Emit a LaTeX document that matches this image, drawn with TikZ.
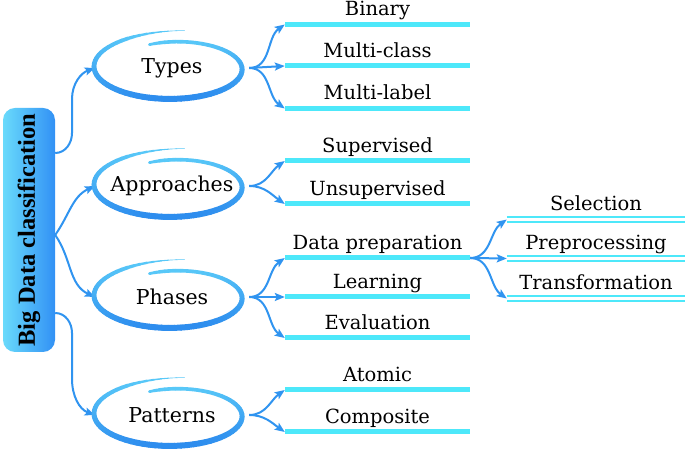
\documentclass[tikz,border=0pt]{standalone}
\usepackage{graphicx}
\usepackage{fontspec}
\setmainfont{DejaVu Serif}
\newfontfamily\boldfam{Liberation Serif}
\usetikzlibrary{arrows.meta}
\definecolor{connc}{RGB}{48,148,240}
\definecolor{barc}{RGB}{77,232,250}
\definecolor{ellL}{RGB}{88,200,248}
\definecolor{ellD}{RGB}{45,140,238}
\definecolor{mainL}{RGB}{105,218,251}
\definecolor{mainR}{RGB}{50,145,245}

\newcommand\handell[2]{%
 \foreach \i in {0,...,77}{%
  \pgfmathsetmacro\heTA{\i/78}%
  \pgfmathsetmacro\heTB{(\i+1)/78}%
  \pgfmathsetmacro\heAA{112-390*\heTA}%
  \pgfmathsetmacro\heAB{112-390*\heTB}%
  \pgfmathsetmacro\heKA{1-0.2*(1-\heTA)^3+0.2*\heTA^6}%
  \pgfmathsetmacro\heKB{1-0.2*(1-\heTB)^3+0.2*\heTB^6}%
  \pgfmathsetmacro\heS{sin((\heAA+\heAB)/2)}%
  \pgfmathsetmacro\heTM{(\heTA+\heTB)/2}%
  \pgfmathsetmacro\heTP{min(1,0.7+\heTM*8,(1-\heTM)*9)}%
  \pgfmathsetmacro\heW{max(0.6,(3.6+2.4*(0.5-0.5*\heS))*\heTP)}%
  \pgfmathtruncatemacro\hePC{50-50*\heS}%
  \draw[line width=\heW pt, line cap=round, color=ellD!\hePC!ellL]
   ({#1+\heKA*75.5*cos(\heAA)},{#2+\heKA*31.5*sin(\heAA)}) -- ({#1+\heKB*75.5*cos(\heAB)},{#2+\heKB*31.5*sin(\heAB)});
 }}

\begin{document}
\begin{tikzpicture}[x=1pt,y=1pt,
 conn/.style={draw=connc, line width=2pt, -{Stealth[length=10pt,width=8pt,inset=2pt]}},
 topic/.style={rectangle, minimum width=154pt, minimum height=64pt, inner sep=0pt, font=\fontsize{20.5}{24}\selectfont},
 bar/.style={rectangle, fill=barc, minimum width=185pt, minimum height=5pt, inner sep=0pt},
 dbarnode/.style={rectangle, minimum width=178pt, minimum height=7pt, inner sep=0pt},
 dbar/.style={draw=barc, double=white, line width=2pt, double distance=3pt},
 lbl/.style={anchor=base, inner sep=0pt, font=\fontsize{19.5}{22}\selectfont},
 mainbox/.style={rectangle, rounded corners=12pt, left color=mainL, right color=mainR, minimum width=52pt, minimum height=244pt, inner sep=0pt, font=\boldfam\bfseries\fontsize{24.5}{30}\selectfont}]
\useasboundingbox (0,0) rectangle (685,449);
\fill[white] (0,0) rectangle (685,449);

\node[mainbox] (main) at (29,219) {\rotatebox{90}{Big Data classification}};

\node[topic] (types) at (172,381) {Types};
\node[topic] (appr) at (172,263) {Approaches};
\node[topic] (phases) at (172,152) {Phases};
\node[topic] (patt) at (172,34) {Patterns};

\node[bar] (b1) at (377.5,424.5) {};
\node[bar] (b2) at (377.5,383) {};
\node[bar] (b3) at (377.5,340.5) {};
\node[bar] (b4) at (377.5,288) {};
\node[bar] (b5) at (377.5,245) {};
\node[bar] (b6) at (377.5,191) {};
\node[bar] (b7) at (377.5,152) {};
\node[bar] (b8) at (377.5,111) {};
\node[bar] (b9) at (377.5,59) {};
\node[bar] (b10) at (377.5,17) {};

\node[dbarnode] (s1) at (596,229.5) {};
\node[dbarnode] (s2) at (596,190.5) {};
\node[dbarnode] (s3) at (596,150.5) {};
\draw[dbar] (s1.west) -- (s1.east);
\draw[dbar] (s2.west) -- (s2.east);
\draw[dbar] (s3.west) -- (s3.east);

\node[lbl] (l1) at ([yshift=8.5pt]b1.center) {Binary};
\node[lbl] (l2) at ([yshift=8.5pt]b2.center) {Multi-class};
\node[lbl] (l3) at ([yshift=8.5pt]b3.center) {Multi-label};
\node[lbl] (l4) at ([yshift=8.5pt]b4.center) {Supervised};
\node[lbl] (l5) at ([yshift=8.5pt]b5.center) {Unsupervised};
\node[lbl] (l6) at ([yshift=8.5pt]b6.center) {Data preparation};
\node[lbl] (l7) at ([yshift=8.5pt]b7.center) {Learning};
\node[lbl] (l8) at ([yshift=8.5pt]b8.center) {Evaluation};
\node[lbl] (l9) at ([yshift=8.5pt]b9.center) {Atomic};
\node[lbl] (l10) at ([yshift=8.5pt]b10.center) {Composite};
\node[lbl] (m1) at ([yshift=9pt]s1.center) {Selection};
\node[lbl] (m2) at ([yshift=9pt]s2.center) {Preprocessing};
\node[lbl] (m3) at ([yshift=9pt]s3.center) {Transformation};

% left connectors
\draw[conn] ([yshift=77pt]main.east) to[out=0,in=-90] (72,316) -- (72,350) to[out=90,in=200] (types.west);
\coordinate (fork) at ([yshift=-5pt]main.east);
\draw[conn] (fork) to[out=55,in=205] (appr.west);
\draw[conn] (fork) to[out=-55,in=155] (phases.west);
\draw[conn] ([yshift=-83pt]main.east) to[out=0,in=90] (72,116) -- (72,70) to[out=-90,in=160] (patt.west);

% right connectors
\draw[conn] (types.east) to[out=0,in=215] (b1.west);
\draw[conn] (types.east) -- (b2.west);
\draw[conn] (types.east) to[out=0,in=145] (b3.west);
\draw[conn] (appr.east) to[out=0,in=215] (b4.west);
\draw[conn] (appr.east) to[out=0,in=145] (b5.west);
\draw[conn] (phases.east) to[out=0,in=215] (b6.west);
\draw[conn] (phases.east) -- (b7.west);
\draw[conn] (phases.east) to[out=0,in=145] (b8.west);
\draw[conn] (patt.east) to[out=0,in=215] (b9.west);
\draw[conn] (patt.east) to[out=0,in=145] (b10.west);
\draw[conn] (b6.east) to[out=0,in=215] (s1.west);
\draw[conn] (b6.east) -- (s2.west);
\draw[conn] (b6.east) to[out=0,in=145] (s3.west);

\handell{172}{381}
\handell{172}{263}
\handell{172}{152}
\handell{172}{34}
\end{tikzpicture}
\end{document}
